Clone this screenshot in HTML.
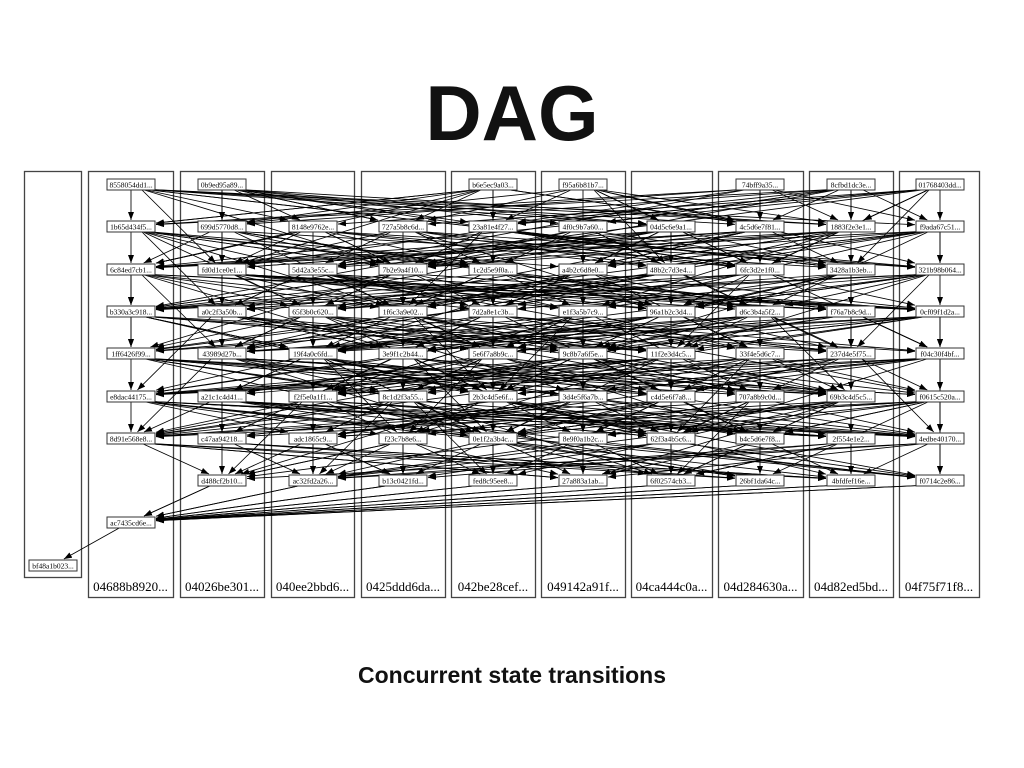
<!DOCTYPE html>
<html><head><meta charset="utf-8"><style>
html,body{margin:0;padding:0;background:#fff;width:1024px;height:768px;overflow:hidden}
#t{position:absolute;left:0;width:1024px;top:68px;text-align:center;font:bold 78px "Liberation Sans",sans-serif;color:#111}
#s{position:absolute;left:0;width:1024px;top:662px;text-align:center;font:bold 23px "Liberation Sans",sans-serif;color:#111}
svg{position:absolute;left:0;top:0}
</style></head><body>
<div id="t">DAG</div>
<svg id="g" width="1024" height="768" font-family="Liberation Serif,serif"></svg>
<div id="s">Concurrent state transitions</div>
<script>
var NS="http://www.w3.org/2000/svg",g=document.getElementById('g');
function el(n,a,p){var e=document.createElementNS(NS,n);for(var k in a)e.setAttribute(k,a[k]);(p||g).appendChild(e);return e;}
var defs=el('defs',{});var m=el('marker',{id:'a',markerWidth:8,markerHeight:6,refX:8,refY:3,orient:'auto',markerUnits:'userSpaceOnUse'},defs);
el('path',{d:'M0,0L8,3L0,6z',fill:'#000'},m);
var cols=[[88,173],[180,264],[271,354],[361,445],[451,535],[541,625],[631,712],[718,803],[809,893],[899,979]];
var names=["04688b8920...","04026be301...","040ee2bbd6...","0425ddd6da...","042be28cef...","049142a91f...","04ca444c0a...","04d284630a...","04d82ed5bd...","04f75f71f8..."];
el('rect',{x:24.5,y:171.5,width:57,height:406,fill:'none',stroke:'#444','stroke-width':1.3});
cols.forEach(function(c,i){el('rect',{x:c[0]+.5,y:171.5,width:c[1]-c[0],height:426,fill:'none',stroke:'#444','stroke-width':1.3});
var t=el('text',{x:(c[0]+c[1])/2,y:591,'text-anchor':'middle','font-size':13});t.textContent=names[i];});
var cx=[131,222,313,403,493,583,671,760,851,940],ry=[184,226,269,311,353,396,438,480];
var lab=[["8558054dd1...","1b65d434f5...","6c84ed7cb1...","b330a3c918...","1ff6426f99...","e8dac44175...","8d91e568e8..."],
["0b9ed95a89...","699d5770d8...","fd0d1ce0e1...","a0c2f3a50b...","43989d27b...","a21c1c4d41...","c47aa94218...","d488cf2b10..."],
[null,"8148e9762e...","5d42a3e55c...","65f3b0c620...","19f4a0c6fd...","f2f5e0a1f1...","adc1865c9...","ac32fd2a26..."],
[null,"727a5b8c6d...","7b2e9a4f10...","1f6c3a9e02...","3e9f1c2b44...","8c1d2f3a55...","f23c7b8e6...","b13c0421fd..."],
["b6e5ec9a03...","23a81e4f27...","1c2d5e9f0a...","7d2a8e1c3b...","5e6f7a8b9c...","2b3c4d5e6f...","0e1f2a3b4c...","fed8c95ee8..."],
["f95a6b81b7...","4f0c9b7a60...","a4b2c6d8e0...","e1f3a5b7c9...","9c8b7a6f5e...","3d4e5f6a7b...","8e9f0a1b2c...","27a883a1ab..."],
[null,"04d5c6e9a1...","48b2c7d3e4...","96a1b2c3d4...","11f2e3d4c5...","c4d5e6f7a8...","62f3a4b5c6...","6f02574cb3..."],
["74bff9a35...","4c5d6e7f81...","6fc3d2e1f0...","d6c3b4a5f2...","33f4e5d6c7...","707a8b9c0d...","b4c5d6e7f8...","26bf1da64c..."],
["8cfbd1dc3e...","1883f2e3e1...","3428a1b3eb...","f76a7b8c9d...","237d4e5f75...","69b3c4d5c5...","2f554e1e2...","4bfdfef16e..."],
["01768403dd...","f9ada67c51...","321b98b064...","0cf09f1d2a...","f04c30f4bf...","f0615c520a...","4edbe40170...","f0714c2e86..."]];
var nodes=[];
lab.forEach(function(col,i){col.forEach(function(l,r){if(l)nodes.push({x:cx[i],y:ry[r],r:r,l:l,c:i});});});
var s=12345;function rnd(){s=(s*1103515245+12345)%2147483648;return s/2147483648;}
var lines=el('g',{stroke:'#000','stroke-width':0.85,fill:'none'});
function edge(a,b){var dx=b.x-a.x,dy=b.y-a.y,hw=25,hh=6;var tx=Math.abs(dx)>0.01?hw/Math.abs(dx):1e9,ty=hh/Math.abs(dy||1e-9);var t=Math.min(tx,ty);
var ex=b.x-dx*t,ey=b.y-dy*t;el('line',{x1:a.x+(dx>0?10:-10)*Math.min(1,Math.abs(dx)/60),y1:a.y+5,x2:ex,y2:ey,'marker-end':'url(#a)'},lines);}
nodes.forEach(function(a){if(a.r>=7)return;
var n=a.r==6?5:10;for(var k=0;k<n;k++){var dr=(rnd()<0.7||a.r==6)?1:2;var cand=nodes.filter(function(b){return b.r==a.r+dr;});if(!cand.length)continue;
var b=cand[Math.floor(rnd()*cand.length)];if(k==0){var same=cand.filter(function(b){return b.c==a.c;});if(same.length)b=same[0];}edge(a,b);}});
var ac={x:131,y:522,l:"ac7435cd6e...",c:0},bf={x:53,y:565,l:"bf48a1b023...",c:-1};
nodes.filter(function(n){return n.r==7;}).forEach(function(n){edge(n,ac);edge(n,ac);});
edge(ac,bf);nodes.push(ac);nodes.push(bf);
nodes.forEach(function(n){el('rect',{x:n.x-24,y:n.y-5,width:48,height:11,fill:'#fff',stroke:'#333','stroke-width':1});
var t=el('text',{x:n.x,y:n.y+3.5,'text-anchor':'middle','font-size':7.5});t.textContent=n.l;});
</script>
</body></html>
